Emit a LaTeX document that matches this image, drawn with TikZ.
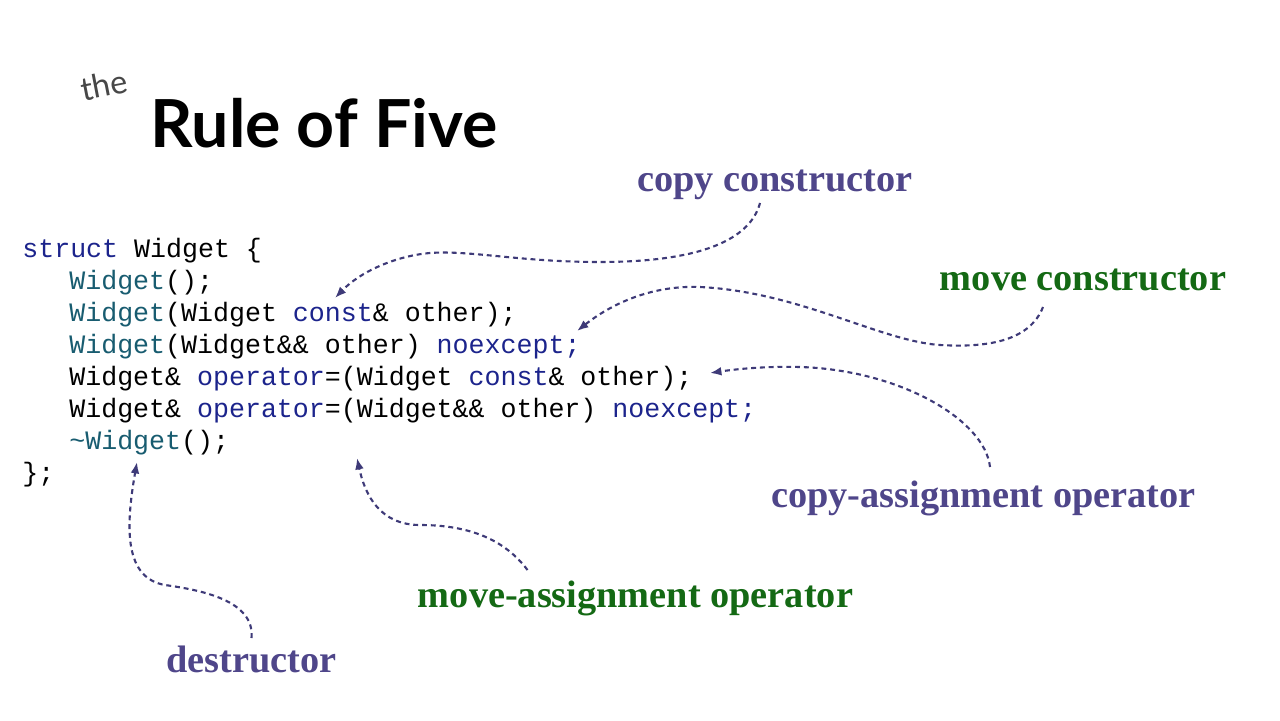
\documentclass[tikz,border=0pt]{standalone}
\usepackage{fontspec}
\setmainfont{Liberation Serif}
\setmonofont{Liberation Mono}
\newfontfamily\latofont{Lato}
\usetikzlibrary{calc,arrows.meta}

\definecolor{kwblue}{RGB}{28,36,140}
\definecolor{fnteal}{RGB}{24,92,112}
\definecolor{lblpurple}{RGB}{79,70,138}
\definecolor{lblgreen}{RGB}{20,105,20}
\definecolor{arrowpurple}{RGB}{62,58,120}
\newcommand{\kw}[1]{\textcolor{kwblue}{#1}}
\newcommand{\fn}[1]{\textcolor{fnteal}{#1}}

\begin{document}
\begin{tikzpicture}[>={Latex[length=6.5pt,width=5pt]}, x=0.02cm, y=-0.02cm]
        \tikzset{
            code/.style={anchor=base west, inner sep=0pt, font=\ttfamily\fontsize{15.15}{18}\selectfont},
            term/.style={anchor=base, inner sep=0pt, font=\bfseries\fontsize{21.8}{26}\selectfont},
            pointer/.style={->, arrowpurple, line width=1.2pt, dash pattern=on 2.8pt off 2.2pt}
        }

        \fill[white] (0,0) rectangle (1280,720);
        \useasboundingbox (0,0) rectangle (1280,720);

        \node[rotate=11, inner sep=0pt, text=black!72, font=\latofont\fontsize{18.5}{22}\selectfont] (the) at (104,85) {the};
        \node[anchor=base west, inner sep=0pt, font=\latofont\bfseries\fontsize{37.7}{44}\selectfont] (title) at (150,147) {Rule of Five};

        \node[code] (line0) at (22,257) {\kw{struct} Widget \{};
        \node[code] (line1) at (69,289) {\fn{Widget}();};
        \node[code] (line2) at (69,321) {\fn{Widget}(Widget \kw{const}\& other);};
        \node[code] (line3) at (69,353) {\fn{Widget}(Widget\&\& other) \kw{noexcept;}};
        \node[code] (line4) at (69,385) {Widget\& \kw{operator}=(Widget \kw{const}\& other);};
        \node[code] (line5) at (69,417) {Widget\& \kw{operator}=(Widget\&\& other) \kw{noexcept;}};
        \node[code] (line6) at (69,449) {\fn{\textasciitilde Widget}();};
        \node[code] (line7) at (22,481) {\};};

        \node[term, text=lblpurple] (copyctor) at (775,191) {copy constructor};
        \node[term, text=lblgreen] (movector) at (1083,290) {move constructor};
        \node[term, text=lblpurple] (copyassign) at (983.5,507) {copy-assignment operator};
        \node[term, text=lblgreen] (moveassign) at (635.5,607) {move-assignment operator};
        \node[term, text=lblpurple] (dtor) at (251.5,672) {destructor};

        \coordinate (copyctorTip) at (335,298);
        \coordinate (movectorTip) at (577,331);
        \coordinate (copyassignTip) at (710,373);
        \coordinate (moveassignTip) at (357,458);
        \coordinate (dtorTip) at (137,462);

        \draw[pointer] ($(copyctor.base)+(-15,12)$) .. controls (750,240) and (700,262) .. (600,262)
            .. controls (520,262) and (470,250) .. (430,253) .. controls (395,256) and (360,272) .. (copyctorTip);
        \draw[pointer] ($(movector.base)+(-40,17)$) .. controls (1030,340) and (990,348) .. (940,345)
            .. controls (880,341) and (800,292) .. (700,287) .. controls (650,285) and (610,305) .. (movectorTip);
        \draw[pointer] ($(copyassign.base)+(6.5,-40)$) .. controls (985,420) and (900,370) .. (800,367)
            .. controls (760,366) and (730,370) .. (copyassignTip);
        \draw[pointer] ($(moveassign.base)+(-108,-37)$) .. controls (505,540) and (470,525) .. (420,525)
            .. controls (380,525) and (365,495) .. (moveassignTip);
        \draw[pointer] ($(dtor.base)+(0,-34)$) .. controls (255,600) and (200,590) .. (165,585)
            .. controls (125,578) and (125,530) .. (dtorTip);
    \end{tikzpicture}
\end{document}
